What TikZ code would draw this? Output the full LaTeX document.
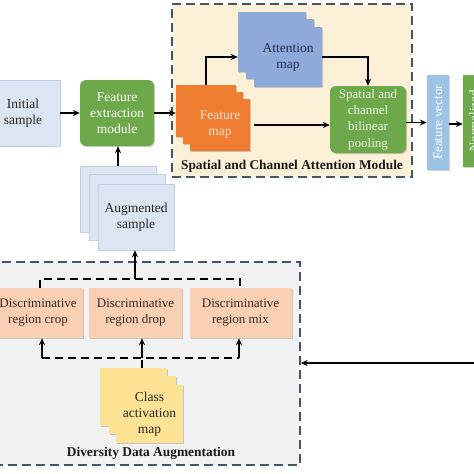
\documentclass[tikz,border=0pt]{standalone}
\usepackage{fontspec}
\setmainfont{Liberation Serif}
\usetikzlibrary{arrows.meta,shadows}
\definecolor{lbfill}{HTML}{DCE6F2}
\definecolor{lbdraw}{HTML}{C0D0E4}
\definecolor{gfill}{HTML}{6DA84A}
\definecolor{ofill}{HTML}{EE7D32}
\definecolor{otext}{HTML}{FCE2CC}
\definecolor{afill}{HTML}{8EAADB}
\definecolor{atext}{HTML}{1F2D4D}
\definecolor{fvfill}{HTML}{9DC3E6}
\definecolor{scamfill}{HTML}{FDF0D8}
\definecolor{ddafill}{HTML}{F2F2F2}
\definecolor{bordc}{HTML}{44546A}
\definecolor{pfill}{HTML}{F9D0B3}
\definecolor{ptext}{HTML}{3A2A22}
\definecolor{yfill}{HTML}{FFE395}
\definecolor{poolt}{HTML}{EEF5E8}
\tikzset{
  base/.style={font=\fontsize{13.5}{16}\selectfont, align=center, inner sep=0pt},
  shad/.style={drop shadow={shadow xshift=1.2pt, shadow yshift=-1.2pt, opacity=0.18, fill=black}},
  lblue/.style={base, shad, fill=lbfill, draw=lbdraw, line width=0.5pt, text=black!85},
  greenbox/.style={base, shad, fill=gfill, rounded corners=6pt, text=white},
  orangebox/.style={base, shad, fill=ofill, text=otext, minimum width=60, minimum height=52},
  bluebox/.style={base, shad, fill=afill, text=atext, minimum width=68, minimum height=60},
  peach/.style={base, shad, fill=pfill, text=ptext, minimum height=50, font=\fontsize{13}{16}\selectfont},
  yelbox/.style={base, shad, fill=yfill, text=black!85, minimum width=67, minimum height=58},
  region/.style={draw=bordc, line width=1.3pt, dash pattern=on 9pt off 5pt, inner sep=0pt},
  title/.style={font=\fontsize{13.4}{15}\selectfont\bfseries, text=black!90, inner sep=0pt},
  arr/.style={line width=1.1pt, -{Stealth[length=7pt,width=6pt]}},
  dline/.style={line width=1.3pt, dash pattern=on 8pt off 5pt},
}
\begin{document}
\begin{tikzpicture}[x=1pt,y=-1pt]
\useasboundingbox (0,0) rectangle (474,474);
\clip (0,0) rectangle (474,474);
\fill[white] (0,0) rectangle (474,474);

% regions
\node[region, fill=scamfill, minimum width=240, minimum height=173] (scam) at (292,90.5) {};
\node[region, fill=ddafill, minimum width=320, minimum height=203] (dda) at (140,363.5) {};
\node[title] (scamt) at (292,166) {Spatial and Channel Attention Module};
\node[title] (ddat) at (151,453) {Diversity Data Augmentation};

% top row
\node[lblue, minimum width=74, minimum height=66] (init) at (23,113) {Initial\\sample};
\node[greenbox, minimum width=74, minimum height=66] (fe) at (117,113) {Feature\\extraction\\module};

% feature maps
\node[orangebox] (fm3) at (206,111) {};
\node[orangebox] (fm2) at (213,118) {};
\node[orangebox] (fm) at (220,125) {Feature\\map};

% attention maps
\node[bluebox] (att3) at (272,42) {};
\node[bluebox] (att2) at (280,49) {};
\node[bluebox] (att) at (288,57) {Attention\\map};

% pooling
\node[greenbox, minimum width=76, minimum height=67, font=\fontsize{13}{16.3}\selectfont, text=poolt] (pool) at (368,119.5) {Spatial and\\channel\\bilinear\\pooling};

% feature vector / normalized (rotated: north = left side, south = right side)
\node[base, shad, fill=fvfill, text=white, minimum width=95, minimum height=22, rotate=90, font=\fontsize{13}{16}\selectfont] (fv) at (438,122.5) {Feature vector};
\node[base, shad, fill=gfill, text=white, minimum width=92, minimum height=22, rotate=90, font=\fontsize{13}{16}\selectfont] (norm) at (474,121) {Normalized};

% augmented sample
\node[lblue, minimum width=76, minimum height=66] (aug3) at (118,199) {};
\node[lblue, minimum width=76, minimum height=66] (aug2) at (127,207) {};
\node[lblue, minimum width=76, minimum height=66] (aug) at (136,217) {Augmented\\sample};

% discriminative boxes
\node[peach, minimum width=90] (crop) at (38,313) {Discriminative\\region crop};
\node[peach, minimum width=93] (drop) at (135.5,313) {Discriminative\\region drop};
\node[peach, minimum width=102] (mix) at (240.5,313) {Discriminative\\region mix};

% class activation map
\node[yelbox] (cam3) at (133.5,397) {};
\node[yelbox] (cam2) at (142,405) {};
\node[yelbox] (cam) at (149.5,414) {Class\\activation\\map};

% connectors top
\draw[arr] (init.east) -- (fe.west);
\draw[arr] (fe.east) -- (fe.east -| fm3.west);
\draw[arr] (fm3.north) |- (att3.west |- att.west);
\draw[arr] (att.east) -| (pool.north);
\draw[arr] ([xshift=4pt]fm.east) -- (fm.east -| pool.west);
\draw[arr] (fv.north -| pool.east) -- (fv.north);
\draw[arr] ([yshift=-1.5pt]fv.south) -- ([yshift=-1.5pt]fv.south -| norm.north);
\draw[arr] (aug3.north) -- (aug3.north |- fe.south);

% DDA connectors
\coordinate (tl) at (40,279);
\coordinate (tr) at (240,279);
\coordinate (tm) at (135,279);
\coordinate (bl) at (42,358);
\coordinate (br) at (239,358);
\coordinate (bm) at (142,358);
\draw[dline] (tl |- crop.north) -- (tl) -- (tr) -- (tr |- mix.north);
\draw[arr] (tm) -- (tm |- aug.south);
\draw[dline] (bl) -- (br);
\draw[dline] (cam3.north -| bm) -- (bm);
\draw[arr] (bl) -- (bl |- crop.south);
\draw[arr] (bm) -- (bm |- drop.south);
\draw[arr] (br) -- (br |- mix.south);

% incoming arrow from right
\coordinate (rin) at (474,363);
\draw[arr] (rin) -- (rin -| dda.east);
\end{tikzpicture}
\end{document}
